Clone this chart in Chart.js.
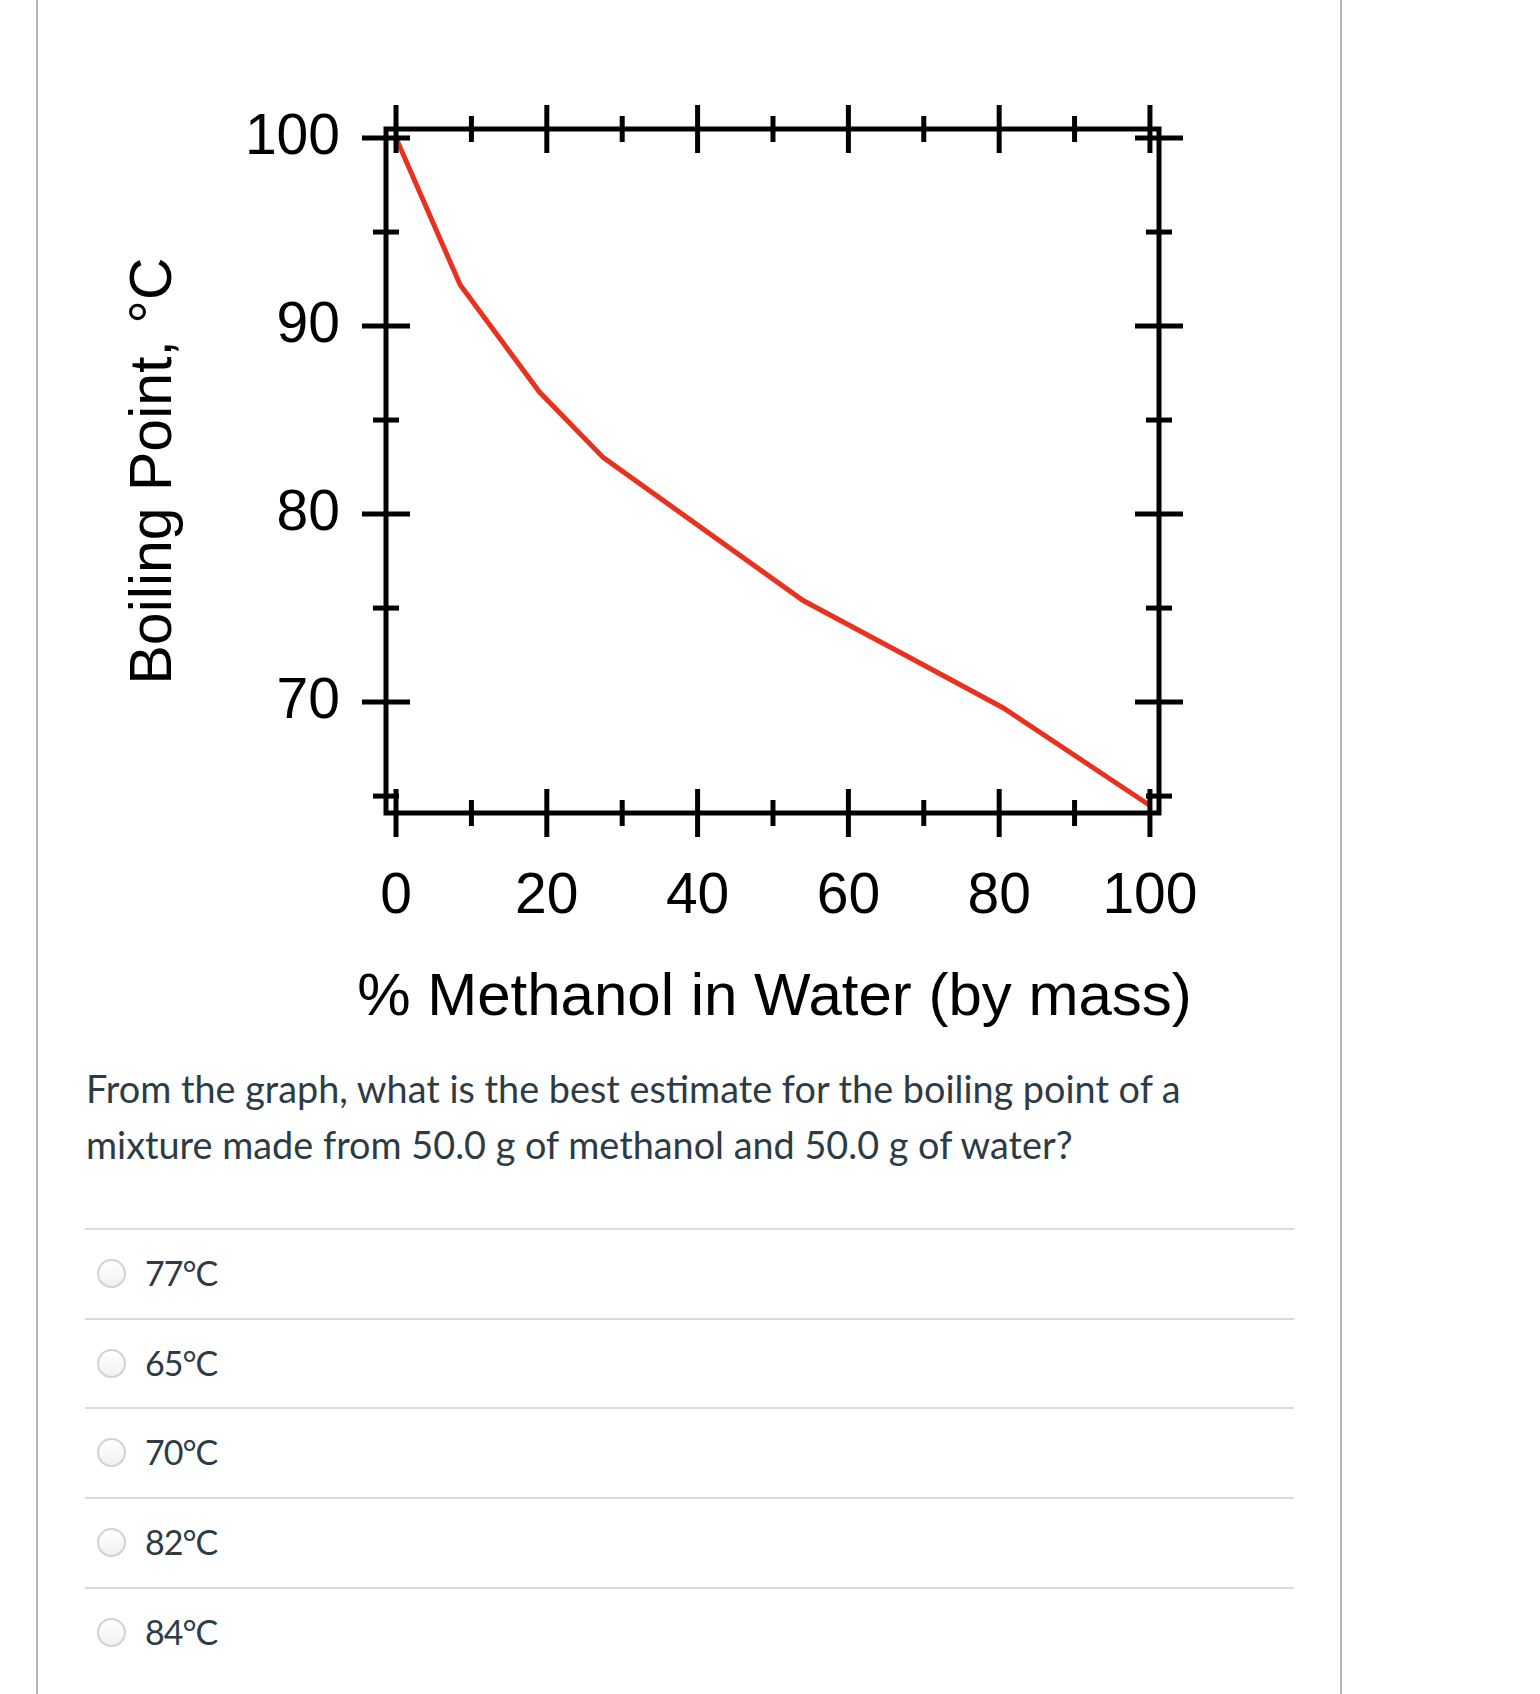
<!DOCTYPE html>
<html>
<head>
<meta charset="utf-8">
<script src="https://cdn.jsdelivr.net/npm/chart.js@4.4.1/dist/chart.umd.min.js"></script>
<style>
  html, body { margin: 0; padding: 0; background: #fff; }
  body { width: 1540px; height: 1694px; position: relative; overflow: hidden; font-family: Lato, "Noto Sans", sans-serif; color: #2d3b45; }
  .border { position: absolute; top: 0; width: 2px; height: 1694px; background: #b4b8bb; }
  #chartBox { position: absolute; left: 0; top: 0; }
  .question { position: absolute; left: 86px; top: 1061px; width: 1200px; font-size: 37.8px; line-height: 56px; white-space: nowrap; }
  .sep { position: absolute; left: 85px; width: 1209px; height: 2px; background: #d8dbdd; }
  .opt { position: absolute; left: 0; height: 60px; }
  .radio { position: absolute; left: 97px; top: 16px; width: 25px; height: 25px; border: 2px solid #d0d3d6; border-radius: 50%; background: linear-gradient(#fff, #f1f1f1); }
  .optText { position: absolute; left: 145px; top: 0; font-size: 34px; letter-spacing: -1px; line-height: 60px; white-space: nowrap; }
</style>
</head>
<body>
<div class="border" style="left:36px"></div>
<div class="border" style="left:1340px"></div>
<div id="chartBox"><canvas id="chart" width="1250" height="1040" style="width:1250px;height:1040px"></canvas></div>

<div class="question">From the graph, what is the best estimate for the boiling point of a<br>mixture made from 50.0 g of methanol and 50.0 g of water?</div>
<div id="options"></div>

<script>
// curve
const methanolPct = [0, 8.5, 19, 27.5, 54, 68, 80.5, 100];
const boilingPt = [100, 92.2, 86.5, 83.0, 75.4, 72.4, 69.7, 64.5];

const xLabels = [0, 20, 40, 60, 80, 100];
const yLabels = [70, 80, 90, 100];
const xTickMarks = [0, 10, 20, 30, 40, 50, 60, 70, 80, 90, 100];
const yTickMarks = [65, 70, 75, 80, 85, 90, 95, 100];

const xTitle = "% Methanol in Water (by mass)";
const yTitle = "Boiling Point, °C";
const answers = ["77°C", "65°C", "70°C", "82°C", "84°C"];

const RED = "#e8321f";
const FONT = "'Liberation Sans', Arial, sans-serif";

// box with ticks on all four sides, crossing the frame
const framePlugin = {
  id: "frame",
  afterDatasetsDraw(chart) {
    const { ctx, chartArea: a, scales } = chart;
    ctx.save();
    ctx.strokeStyle = "#000";
    ctx.lineWidth = 5;
    ctx.lineCap = "butt";
    ctx.strokeRect(a.left, a.top, a.right - a.left, a.bottom - a.top);

    xTickMarks.forEach(v => {
      const px = scales.x.getPixelForValue(v);
      const len = v % 20 === 0 ? 24 : 13;
      [a.top, a.bottom].forEach(yy => {
        ctx.beginPath();
        ctx.moveTo(px, yy - len);
        ctx.lineTo(px, yy + len);
        ctx.stroke();
      });
    });
    yTickMarks.forEach(v => {
      const py = scales.y.getPixelForValue(v);
      const len = v % 10 === 0 ? 24 : 13;
      [a.left, a.right].forEach(xx => {
        ctx.beginPath();
        ctx.moveTo(xx - len, py);
        ctx.lineTo(xx + len, py);
        ctx.stroke();
      });
    });
    ctx.restore();
  },
  // the x title is wider than the plot, chart.js would squeeze it
  afterDraw(chart) {
    const { ctx, chartArea: a } = chart;
    ctx.save();
    ctx.fillStyle = "#000";
    ctx.font = "60px " + FONT;
    ctx.textAlign = "center";
    ctx.textBaseline = "alphabetic";
    ctx.fillText(xTitle, (a.left + a.right) / 2 + 2, a.bottom + 202);
    ctx.restore();
  }
};

const ctx = document.getElementById("chart").getContext("2d");
new Chart(ctx, {
  type: "line",
  data: {
    datasets: [{
      data: methanolPct.map((x, i) => ({ x: x, y: boilingPt[i] })),
      borderColor: RED,
      borderWidth: 5,
      pointRadius: 0,
      tension: 0,
      fill: false
    }]
  },
  options: {
    responsive: false,
    animation: false,
    devicePixelRatio: 1,
    layout: { padding: { top: 129, right: 91, left: 0, bottom: 0 } },
    plugins: { legend: { display: false }, tooltip: { enabled: false } },
    scales: {
      x: {
        type: "linear",
        min: -1.33,
        max: 101.2,
        afterBuildTicks: s => { s.ticks = xLabels.map(v => ({ value: v })); },
        afterFit: s => { s.height = 227; },
        grid: { display: false, drawTicks: false },
        border: { display: false },
        ticks: { padding: 50, color: "#000", font: { family: FONT, size: 57 }, maxRotation: 0, autoSkip: false },
        title: { display: false }
      },
      y: {
        type: "linear",
        min: 64.1,
        max: 100.48,
        afterBuildTicks: s => { s.ticks = yLabels.map(v => ({ value: v })); },
        afterFit: s => { s.width = 386; },
        grid: { display: false, drawTicks: false },
        border: { display: false },
        ticks: { padding: 46, color: "#000", font: { family: FONT, size: 57 }, autoSkip: false },
        title: {
          display: true,
          text: yTitle,
          color: "#000",
          font: { family: FONT, size: 59 },
          padding: { top: 119, bottom: 0 }
        }
      }
    }
  },
  plugins: [framePlugin]
});

// answer list
const seps = [1229, 1319, 1408, 1498, 1588];
const box = document.getElementById("options");
answers.forEach((txt, i) => {
  const s = document.createElement("div");
  s.className = "sep";
  s.style.top = (seps[i] - 1) + "px";
  box.appendChild(s);
  const o = document.createElement("div");
  o.className = "opt";
  o.style.top = (seps[i] + 14) + "px";
  o.innerHTML = '<div class="radio"></div><div class="optText">' + txt + '</div>';
  box.appendChild(o);
});
</script>
</body>
</html>
